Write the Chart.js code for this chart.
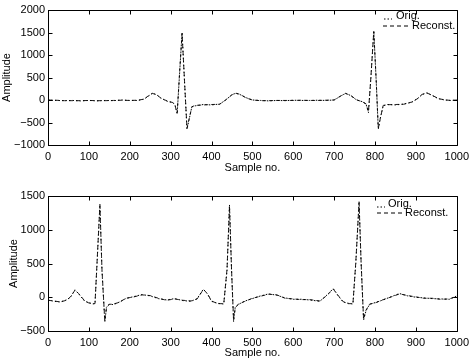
<!DOCTYPE html>
<html>
<head>
<meta charset="utf-8">
<script src="https://cdn.jsdelivr.net/npm/chart.js@4"></script>
<style>
  body { margin: 0; background: #fff; }
  canvas { position: absolute; left: 0; }
  #top { top: 0; }
  #bottom { top: 180px; }
</style>
</head>
<body>
<canvas id="top" width="474" height="180"></canvas>
<canvas id="bottom" width="474" height="181"></canvas>
<script>
// upper panel: sample index and amplitude
const samplesTop = [0, 20, 40, 60, 80, 100, 120, 140, 160, 180, 200, 220, 235, 245, 255, 265, 275, 285, 295, 305, 311, 316, 322, 328, 334, 340, 346, 352, 360, 380, 400, 420, 435, 450, 460, 470, 485, 500, 520, 540, 560, 580, 600, 620, 640, 660, 680, 700, 715, 728, 740, 755, 770, 778, 784, 790, 797, 803, 808, 813, 820, 830, 850, 870, 890, 905, 915, 927, 940, 955, 970, 985, 1000];
const origTop = [0, -10, -15, -10, -20, -10, -20, -10, -15, 0, -10, -10, 20, 80, 150, 120, 50, 0, -40, -50, -120, -310, 600, 1500, 400, -650, -400, -150, -130, -100, -110, -90, 0, 120, 150, 120, 50, 0, -10, -20, -10, -15, -5, -10, -10, -5, -10, 0, 80, 150, 100, 0, -40, -90, -280, 500, 1540, 400, -650, -400, -130, -100, -110, -90, -50, 40, 120, 160, 100, 30, 0, -10, 0];
const reconTop = [0, -5, -15, -15, -15, -10, -15, -15, -10, -5, -10, -5, 20, 90, 145, 125, 50, 5, -35, -55, -130, -290, 620, 1480, 420, -630, -390, -150, -120, -110, -100, -95, 5, 115, 150, 125, 45, 0, -15, -15, -10, -10, -10, -5, -10, -10, -5, 0, 85, 145, 105, 5, -45, -85, -260, 520, 1520, 420, -630, -410, -120, -105, -100, -95, -45, 35, 125, 155, 105, 30, 5, -10, 0];

// lower panel
const samplesBottom = [0, 15, 30, 45, 55, 66, 75, 90, 100, 110, 115, 120, 127, 132, 139, 143, 150, 160, 175, 190, 210, 230, 250, 270, 290, 310, 330, 350, 365, 380, 390, 400, 415, 430, 438, 444, 449, 454, 458, 465, 480, 500, 520, 540, 560, 580, 600, 620, 640, 665, 680, 698, 710, 722, 735, 746, 753, 761, 766, 772, 778, 787, 800, 820, 840, 860, 880, 900, 920, 940, 960, 982, 1000];
const origBottom = [-40, -60, -70, -40, 0, 110, 50, -60, -80, -100, -90, 500, 1380, 400, -370, -150, -100, -110, -70, -20, 10, 40, 20, -20, -40, -20, -50, -60, -20, 120, 50, -60, -90, -100, 400, 1370, 400, -360, -150, -110, -60, -20, 20, 50, 30, -10, -30, -30, -40, -60, 20, 128, 20, -70, -90, -100, 500, 1420, 500, -340, -200, -105, -80, -40, 10, 55, 20, 0, -10, -20, -25, -30, 20];
const reconBottom = [-45, -55, -70, -45, 5, 105, 55, -55, -85, -95, -95, 520, 1360, 420, -350, -160, -105, -100, -75, -15, 5, 35, 25, -15, -45, -25, -45, -55, -25, 115, 55, -55, -95, -95, 420, 1350, 420, -340, -160, -105, -65, -15, 15, 45, 35, -15, -25, -35, -35, -55, 15, 120, 25, -65, -95, -95, 520, 1400, 520, -320, -190, -100, -85, -35, 5, 50, 25, 5, -15, -15, -30, -25, 15];

const legendLabels = ["Orig.", "Reconst."];
const xTicks = { min: 0, max: 1000, step: 100 };
const yTicksTop = { min: -1000, max: 2000, step: 500 };
const yTicksBottom = { min: -500, max: 1500, step: 500 };

const FONT = "'Liberation Sans', Arial, sans-serif";

function pts(xs, ys) {
  return xs.map((x, i) => ({ x: x, y: ys[i] }));
}

// top/right frame lines, inward ticks on all sides, legend without a box
const framePlugin = {
  id: "frame",
  afterDraw(chart, args, opts) {
    const ctx = chart.ctx;
    const x = chart.scales.x, y = chart.scales.y;
    const L = Math.round(x.left) + 0.5, R = Math.round(x.right) + 0.5;
    const T = Math.round(y.top) + 0.5, B = Math.round(y.bottom) + 0.5;
    ctx.save();
    ctx.setLineDash([]);
    ctx.strokeStyle = "#000";
    ctx.lineWidth = 1;
    ctx.beginPath();
    ctx.moveTo(L, T); ctx.lineTo(R, T); ctx.lineTo(R, B); ctx.lineTo(L, B); ctx.closePath();
    x.ticks.forEach((t) => {
      const px = Math.round(x.getPixelForValue(t.value)) + 0.5;
      ctx.moveTo(px, B); ctx.lineTo(px, B - 4);
      ctx.moveTo(px, T); ctx.lineTo(px, T + 4);
    });
    y.ticks.forEach((t) => {
      const py = Math.round(y.getPixelForValue(t.value)) + 0.5;
      ctx.moveTo(L, py); ctx.lineTo(L + 4, py);
      ctx.moveTo(R, py); ctx.lineTo(R - 4, py);
    });
    ctx.stroke();

    ctx.font = "11px " + FONT;
    ctx.fillStyle = "#000";
    ctx.textBaseline = "middle";
    opts.rows.forEach((r, i) => {
      const ds = chart.data.datasets[i];
      ctx.beginPath();
      ctx.setLineDash(ds.borderDash);
      ctx.lineWidth = ds.borderWidth;
      ctx.moveTo(r.x0, r.ly);
      ctx.lineTo(r.x1, r.ly);
      ctx.stroke();
      ctx.fillText(ds.label, r.tx, r.ty);
    });
    ctx.restore();
  }
};

function makeChart(id, xs, orig, recon, yt, p) {
  new Chart(document.getElementById(id), {
    type: "line",
    data: {
      datasets: [
        {
          label: legendLabels[0],
          data: pts(xs, orig),
          borderColor: "#000",
          borderWidth: 1,
          borderDash: [1.5, 2],
          pointRadius: 0,
          tension: 0,
        },
        {
          label: legendLabels[1],
          data: pts(xs, recon),
          borderColor: "#222",
          borderWidth: 1,
          borderDash: [4, 3],
          pointRadius: 0,
          tension: 0,
        },
      ],
    },
    options: {
      responsive: false,
      animation: false,
      layout: { padding: { left: 0, right: 16, top: p.top, bottom: 0 } },
      plugins: {
        legend: { display: false },
        tooltip: { enabled: false },
        frame: { rows: p.legend },
      },
      scales: {
        x: {
          type: "linear",
          min: xTicks.min,
          max: xTicks.max,
          grid: { display: false, drawTicks: false },
          border: { display: true, color: "#000", width: 1 },
          ticks: {
            stepSize: xTicks.step,
            padding: 5,
            maxRotation: 0,
            color: "#000",
            font: { family: FONT, size: 11 },
            callback: (v) => String(v),
          },
          title: {
            display: true,
            text: "Sample no.",
            color: "#000",
            font: { family: FONT, size: 11 },
            padding: { top: 0, bottom: p.xTitlePad },
          },
          afterFit: (s) => { s.height = p.xHeight; },
        },
        y: {
          min: yt.min,
          max: yt.max,
          grid: { display: false, drawTicks: false },
          border: { display: true, color: "#000", width: 1 },
          ticks: {
            stepSize: yt.step,
            padding: 3,
            color: "#000",
            font: { family: FONT, size: 11 },
            callback: (v) => String(v).replace("-", "\u2212"),
          },
          title: {
            display: true,
            text: "Amplitude",
            color: "#000",
            font: { family: FONT, size: 11 },
            padding: { top: p.yTitlePad, bottom: 0 },
          },
          afterFit: (s) => { s.width = 48; },
        },
      },
    },
    plugins: [framePlugin],
  });
}

makeChart("top", samplesTop, origTop, reconTop, yTicksTop, {
  top: 10, xHeight: 35, xTitlePad: 5, yTitlePad: 0,
  legend: [
    { x0: 384, x1: 392, ly: 19, tx: 396, ty: 16 },
    { x0: 383, x1: 409, ly: 26, tx: 412, ty: 26 },
  ],
});

makeChart("bottom", samplesBottom, origBottom, reconBottom, yTicksBottom, {
  top: 16, xHeight: 30, xTitlePad: 1, yTitlePad: 7,
  legend: [
    { x0: 377, x1: 385, ly: 27, tx: 388, ty: 24 },
    { x0: 377, x1: 403, ly: 33, tx: 405, ty: 33 },
  ],
});
</script>
</body>
</html>
